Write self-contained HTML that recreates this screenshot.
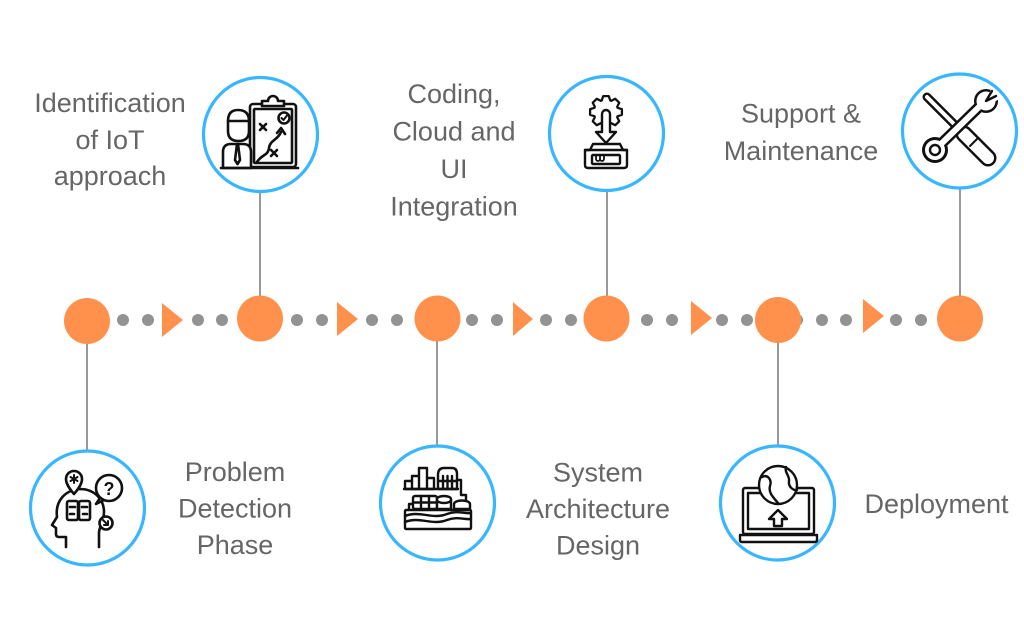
<!DOCTYPE html>
<html>
<head>
<meta charset="utf-8">
<style>
html,body{margin:0;padding:0;background:#fff;}
body{width:1024px;height:640px;overflow:hidden;}
svg{display:block;}
text{font-family:"Liberation Sans",sans-serif;font-size:27px;fill:#666;text-anchor:middle;}
</style>
</head>
<body>
<svg width="1024" height="640" viewBox="0 0 1024 640" xmlns="http://www.w3.org/2000/svg">
<rect width="1024" height="640" fill="#fff"/>

<!-- connector lines -->
<g stroke="#999" stroke-width="2">
  <line x1="87" y1="340" x2="87" y2="452"/>
  <line x1="260" y1="192" x2="260" y2="298"/>
  <line x1="437" y1="340" x2="437" y2="447"/>
  <line x1="607" y1="191" x2="607" y2="298"/>
  <line x1="778" y1="340" x2="778" y2="447"/>
  <line x1="960" y1="188" x2="960" y2="298"/>
</g>

<!-- gray dots -->
<g fill="#939393">
  <circle cx="123" cy="320" r="6"/><circle cx="148" cy="320" r="6"/>
  <circle cx="198" cy="320" r="6"/><circle cx="222" cy="320" r="6"/>
  <circle cx="297" cy="320" r="6"/><circle cx="322" cy="320" r="6"/>
  <circle cx="372" cy="320" r="6"/><circle cx="397" cy="320" r="6"/>
  <circle cx="472" cy="320" r="6"/><circle cx="497" cy="320" r="6"/>
  <circle cx="546" cy="320" r="6"/><circle cx="571" cy="320" r="6"/>
  <circle cx="647" cy="320" r="6"/><circle cx="672" cy="320" r="6"/>
  <circle cx="697" cy="320" r="6"/>
  <circle cx="722" cy="320" r="6"/><circle cx="747" cy="320" r="6"/>
  <circle cx="797" cy="320" r="6"/>
  <circle cx="822" cy="320" r="6"/><circle cx="846" cy="320" r="6"/>
  <circle cx="896" cy="320" r="6"/><circle cx="921" cy="320" r="6"/>
</g>

<!-- orange triangles -->
<g fill="#FF914D">
  <polygon points="162,303 183,320 162,337"/>
  <polygon points="337,302 358,319 337,336"/>
  <polygon points="513,302 533,319 513,336"/>
  <polygon points="691,301 712,318 691,335"/>
  <polygon points="863,299 884,316 863,333"/>
</g>

<!-- orange nodes -->
<g fill="#FF914D">
  <circle cx="87" cy="321" r="23"/>
  <circle cx="260" cy="318.5" r="23"/>
  <circle cx="437.5" cy="318.5" r="23"/>
  <circle cx="606.5" cy="318.5" r="23"/>
  <circle cx="778" cy="320" r="23"/>
  <circle cx="960" cy="318.5" r="23"/>
</g>

<!-- blue icon circles -->
<g fill="#fff" stroke="#38B6FF" stroke-width="3.2">
  <circle cx="87.5" cy="508" r="57"/>
  <circle cx="260.5" cy="134.5" r="57"/>
  <circle cx="437.5" cy="503" r="57"/>
  <circle cx="606.5" cy="133.5" r="57"/>
  <circle cx="777.5" cy="503" r="57"/>
  <circle cx="959.5" cy="131" r="57"/>
</g>

<!-- Icon 1: problem detection (head) -->
<g fill="#fff" stroke="#111" stroke-width="2.6" stroke-linejoin="round" stroke-linecap="round">
  <path d="M66 547 V537 H59 Q56 537 56 534 V528 L52 525 L57 517 C55 501 65 490 80 489 C94 489 104 499 104 512 C104 521 99 527 99 533 V547"/>
  <rect x="67" y="501" width="11" height="19" rx="2"/>
  <rect x="79" y="501" width="11" height="19" rx="2"/>
  <path d="M70 507 H75 M70 514 H74 M82 507 H87 M83 514 H87"/>
  <path d="M74 494 C68 487 66 483 66 479 A8 8 0 1 1 82 479 C82 483 80 487 74 494 Z"/>
  <path d="M74 475 V483 M70.5 477 L77.5 481 M77.5 477 L70.5 481" stroke-width="2"/>
  <path d="M100 498 L96 504 L104 500"/>
  <circle cx="109" cy="488" r="13"/>
  <circle cx="106" cy="523" r="6.5"/>
  <path d="M103 520 L108 525 M108 521 V525 H104" stroke-width="2"/>
</g>
<text x="109" y="495" style="font-size:18px;font-weight:bold;fill:#111">?</text>

<!-- Icon 2: identification (person + clipboard) -->
<g fill="#fff" stroke="#111" stroke-width="2.6" stroke-linejoin="round" stroke-linecap="round">
  <rect x="250" y="104" width="46" height="63" rx="3"/>
  <rect x="254" y="109" width="38" height="54" rx="1"/>
  <path d="M262 106 V101 H268 A5 5 0 0 1 278 101 H284 V106 Z"/>
  <path d="M260 124 L266 130 M266 124 L260 130"/>
  <path d="M271 150 L277 156 M277 150 L271 156"/>
  <path d="M257 162 C262 154 268 156 269 148 C270 140 278 140 281 132" fill="none"/>
  <path d="M277 133 L281 128 L285 134" fill="none"/>
  <circle cx="284" cy="118" r="5.5"/>
  <path d="M281.5 118 L283.5 120 L287 115.5" fill="none" stroke-width="2"/>
  <path d="M223 168 V152 Q223 144 231 144 H243 Q251 144 251 152 V168 Z"/>
  <path d="M237 144 L235 160 L237.5 164 L240 160 L238 144"/>
  <path d="M228 121 Q228 110 238 110 Q249 110 249 121 V131 Q249 141 238.5 141 Q228 141 228 131 Z"/>
  <path d="M228 121 H249" fill="none"/>
  <path d="M221 168 H298" fill="none"/>
</g>

<!-- Icon 3: system architecture -->
<g fill="#fff" stroke="#111" stroke-width="2.4" stroke-linejoin="round" stroke-linecap="round">
  <path d="M405 489 V481 H412 V476 H419 V468 H427 V478 H434 V489 Z"/>
  <path d="M412 481 V489 M419 476 V489 M427 478 V489" fill="none"/>
  <path d="M438 489 V475 Q438 468 444 468 H452 Q457 468 457 474 V489 Z"/>
  <path d="M443 476 V489 M447.5 476 V489 M452 476 V489 M438 481 H457" fill="none"/>
  <path d="M457 480 H461 V495 H466 V500" fill="none"/>
  <path d="M404 489 H458" fill="none"/>
  <rect x="413" y="496" width="24" height="13" rx="2"/>
  <path d="M421 496 V509 M429 496 V509 M413 502.5 H437" fill="none"/>
  <path d="M437 509 V499 A7 3 0 0 1 451 499 V509 Z"/>
  <path d="M437 500 A7 3 0 0 0 451 500" fill="none"/>
  <path d="M454 509 V504 A8 3.5 0 0 1 470 504 V509 Z"/>
  <path d="M413 504 H409 V514" fill="none"/>
  <rect x="405" y="510" width="66" height="19" rx="1"/>
  <path d="M405 516 C420 510 432 520 447 514 C458 510 464 514 471 513 M405 522 C420 516 432 526 447 520 C458 516 464 520 471 519" fill="none"/>
</g>

<!-- Icon 4: coding / cloud -->
<g fill="#fff" stroke="#111" stroke-width="2.4" stroke-linejoin="round" stroke-linecap="round">
  <polygon transform="translate(606 112) scale(0.95)" points="-4.45,-12.22 -2.95,-16.74 2.95,-16.74 4.45,-12.22 5.49,-11.79 9.75,-13.92 13.92,-9.75 11.79,-5.49 12.22,-4.45 16.74,-2.95 16.74,2.95 12.22,4.45 11.79,5.49 13.92,9.75 9.75,13.92 5.49,11.79 4.45,12.22 2.95,16.74 -2.95,16.74 -4.45,12.22 -5.49,11.79 -9.75,13.92 -13.92,9.75 -11.79,5.49 -12.22,4.45 -16.74,2.95 -16.74,-2.95 -12.22,-4.45 -11.79,-5.49 -13.92,-9.75 -9.75,-13.92 -5.49,-11.79"/>
  <path d="M602 132 V114 A4 4 0 0 1 610 114 V132 H616 L606 143 L596 132 Z"/>
  <path d="M590 150 L593 144 H620 L623 150 H627 V165 Q627 168 624 168 H588 Q585 168 585 165 V150 Z"/>
  <path d="M585 150 H627" fill="none"/>
  <rect x="592" y="155" width="28" height="9" rx="1"/>
  <path d="M596 155 V159 A2 2 0 0 0 600 159 V155 M600 155 V159 A2 2 0 0 0 604 159 V155" fill="none" stroke-width="1.8"/>
</g>

<!-- Icon 5: deployment -->
<g fill="#fff" stroke="#111" stroke-width="2.4" stroke-linejoin="round" stroke-linecap="round">
  <rect x="743" y="488" width="71" height="46" rx="2"/>
  <rect x="748" y="493" width="61" height="36"/>
  <path d="M740 535 H817 V540 Q817 542 815 542 H742 Q740 542 740 540 Z"/>
  <circle cx="778" cy="485" r="19"/>
  <path d="M762 477 C768 474 772 480 770 486 C768 493 774 498 778 503" fill="none"/>
  <path d="M786 467 C784 472 790 476 789 481 C788 488 795 491 797 490" fill="none"/>
  <path d="M778 510 L769 519 H774 V526 H782 V519 H787 Z"/>
</g>

<!-- Icon 6: support (wrench + screwdriver) -->
<g stroke-linecap="round" stroke-linejoin="round">
  <line x1="927" y1="97" x2="962" y2="132" stroke="#111" stroke-width="9"/>
  <line x1="927" y1="97" x2="962" y2="132" stroke="#fff" stroke-width="4"/>
  <line x1="964" y1="134" x2="988" y2="158" stroke="#111" stroke-width="17"/>
  <line x1="964" y1="134" x2="988" y2="158" stroke="#fff" stroke-width="12"/>
  <line x1="970" y1="146" x2="978" y2="138" stroke="#111" stroke-width="2"/>
  <line x1="940" y1="145" x2="980" y2="106" stroke="#111" stroke-width="11"/>
  <circle cx="935" cy="150" r="13" fill="#111"/>
  <circle cx="986" cy="101" r="12" fill="#111"/>
  <line x1="940" y1="145" x2="980" y2="106" stroke="#fff" stroke-width="6"/>
  <circle cx="935" cy="150" r="10" fill="#fff"/>
  <circle cx="986" cy="101" r="9.5" fill="#fff"/>
  <circle cx="935" cy="150" r="5" fill="#fff" stroke="#111" stroke-width="2.4"/>
  <polygon points="986,101 992,87 1002,97 990,105" fill="#fff"/>
  <path d="M986 101 L992 91 M986 101 L996 96" stroke="#111" stroke-width="2.4" fill="none"/>
</g>

<!-- labels -->
<text x="110" y="112">Identification</text>
<text x="110" y="149">of IoT</text>
<text x="110" y="185">approach</text>

<text x="454" y="103">Coding,</text>
<text x="454" y="140.5">Cloud and</text>
<text x="454" y="178">UI</text>
<text x="454" y="215.5">Integration</text>

<text x="801" y="122.5">Support &amp;</text>
<text x="801" y="160">Maintenance</text>

<text x="235" y="481">Problem</text>
<text x="235" y="517.5">Detection</text>
<text x="235" y="554">Phase</text>

<text x="598" y="481.5">System</text>
<text x="598" y="518">Architecture</text>
<text x="598" y="554.5">Design</text>

<text x="936.5" y="513">Deployment</text>
</svg>
</body>
</html>
